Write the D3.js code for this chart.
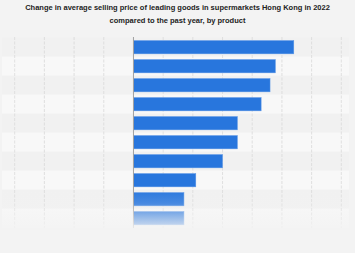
<!DOCTYPE html>
<head>
  <meta charset="utf-8">
  <script src="https://d3js.org/d3.v7.min.js"></script>
  <style>
    body { margin: 0; background: #f3f3f3; }
    svg { display: block; font-family: "Liberation Sans", Arial, sans-serif; }
  </style>
</head>
<body>
<div id="chart"></div>
<script>
// chart size
var width = 355, height = 253;

// products (labels are hidden in the source picture)
var products = ["Product 1", "Product 2", "Product 3", "Product 4", "Product 5",
                "Product 6", "Product 7", "Product 8", "Product 9", "Product 10"];
// change in average selling price, percent
var changes = [54, 47.8, 46, 43, 35, 35, 30, 21, 17, 17];
// gridline positions
var gridTicks = [-40, -30, -20, -10, 0, 10, 20, 30, 40, 50, 60, 70];
var titleLines = [
  "Change in average selling price of leading goods in supermarkets Hong Kong in 2022",
  "compared to the past year, by product"
];

var svg = d3.select("#chart").append("svg")
    .attr("width", width)
    .attr("height", height);

var defs = svg.append("defs");
// fade over the lower rows
var fade = defs.append("linearGradient")
    .attr("id", "fade")
    .attr("gradientUnits", "userSpaceOnUse")
    .attr("x1", 0).attr("x2", 0)
    .attr("y1", 189).attr("y2", 236);
fade.append("stop").attr("offset", 0).attr("stop-color", "#f3f3f3").attr("stop-opacity", 0);
fade.append("stop").attr("offset", 0.3).attr("stop-color", "#f3f3f3").attr("stop-opacity", 0.15);
fade.append("stop").attr("offset", 0.8).attr("stop-color", "#f3f3f3").attr("stop-opacity", 0.8);
fade.append("stop").attr("offset", 1).attr("stop-color", "#f3f3f3").attr("stop-opacity", 1);

var x = d3.scaleLinear()
    .domain([-40, 70])
    .range([14.7, 341.3]);

var y = d3.scaleBand()
    .domain(products)
    .range([37.7, 227.7])
    .paddingInner(0.3)
    .paddingOuter(0.15);

var step = y.step();

// title
svg.append("g").selectAll("text")
  .data(titleLines)
  .enter().append("text")
    .attr("x", width / 2)
    .attr("y", function(d, i) { return 10.3 + i * 12.5; })
    .attr("text-anchor", "middle")
    .attr("font-size", 7.5)
    .attr("font-weight", "bold")
    .attr("fill", "#222")
    .text(function(d) { return d; });

// alternating row backgrounds
svg.append("g").selectAll("rect")
  .data(products)
  .enter().append("rect")
    .attr("x", 2)
    .attr("width", 347)
    .attr("y", function(d) { return y(d) - step * 0.15; })
    .attr("height", step)
    .attr("fill", function(d, i) { return i % 2 ? "#f8f8f8" : "#f1f1f1"; });

// dashed gridlines
svg.append("g").selectAll("line")
  .data(gridTicks.filter(function(t) { return t !== 0; }))
  .enter().append("line")
    .attr("x1", function(d) { return x(d); })
    .attr("x2", function(d) { return x(d); })
    .attr("y1", 37)
    .attr("y2", 228)
    .attr("stroke", "#d9d9d9")
    .attr("stroke-width", 0.8)
    .attr("stroke-dasharray", "3,1.5");

// bars
svg.append("g").selectAll("rect")
  .data(changes)
  .enter().append("rect")
    .attr("x", x(0))
    .attr("y", function(d, i) { return y(products[i]); })
    .attr("width", function(d) { return x(d) - x(0); })
    .attr("height", y.bandwidth())
    .attr("fill", "#2876dd")
    .attr("stroke", "#5e98e6")
    .attr("stroke-width", 0.5);

// zero axis
svg.append("line")
    .attr("x1", x(0)).attr("x2", x(0))
    .attr("y1", 37).attr("y2", 228)
    .attr("stroke", "#a0a0a0")
    .attr("stroke-width", 1);

// fade overlay
svg.append("rect")
    .attr("x", 0).attr("width", width)
    .attr("y", 189).attr("height", 47)
    .attr("fill", "url(#fade)");
</script>
</body>
</html>
